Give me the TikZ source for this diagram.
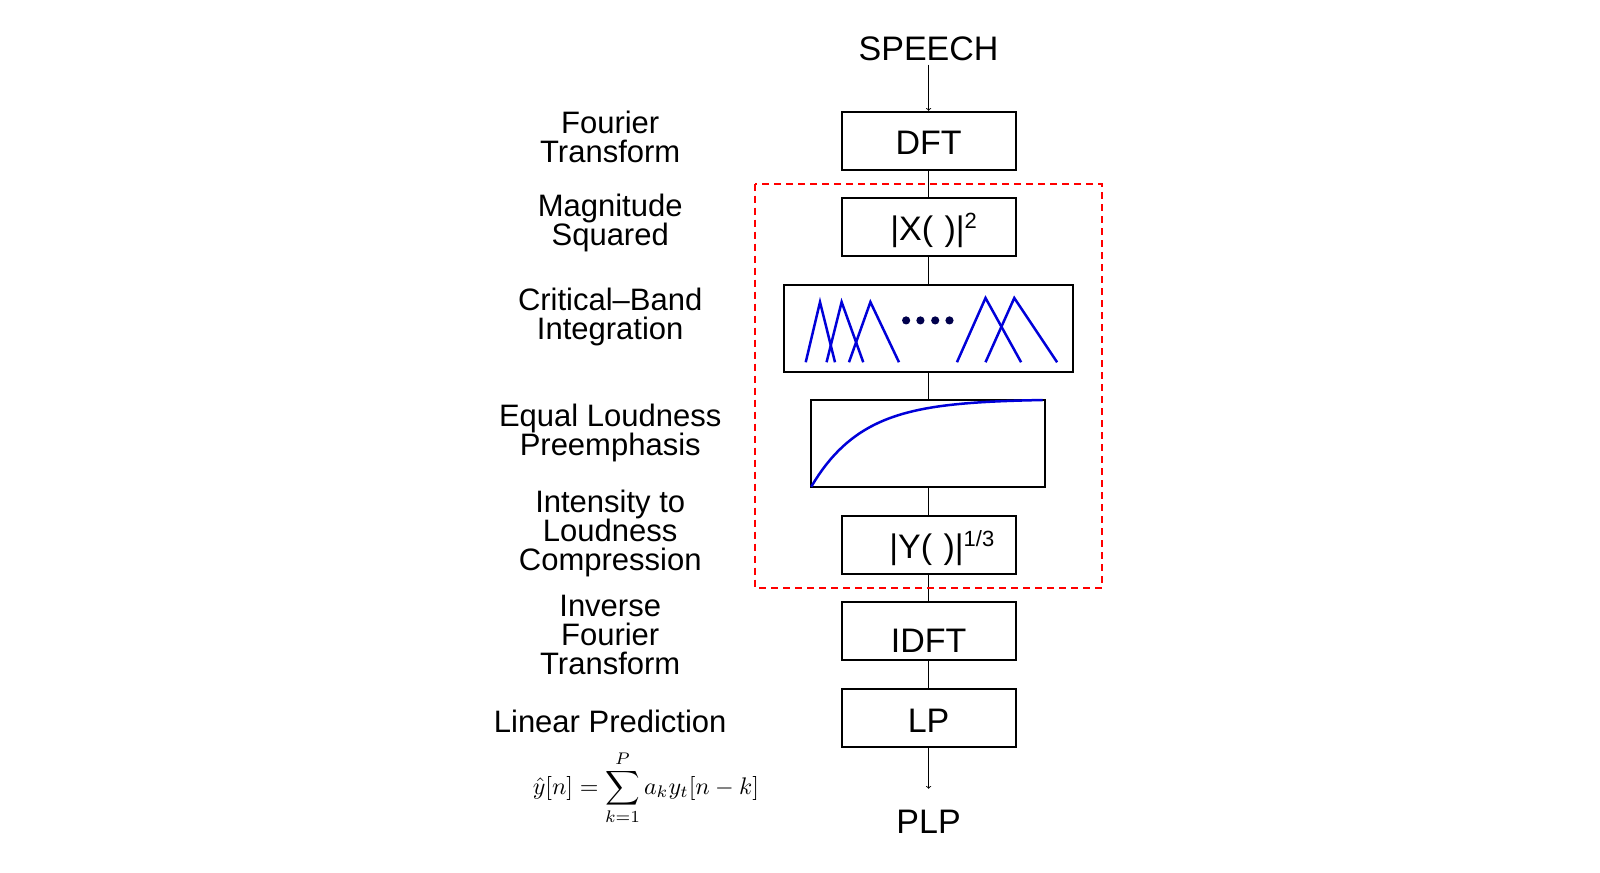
\documentclass[tikz,border=0pt]{standalone}
\usepackage{fontspec}
\usepackage{graphicx}
\setmainfont{Liberation Sans}
\begin{document}
\begin{tikzpicture}[x=1.0204pt,y=-1.0204pt,
  blk/.style={draw,line width=2pt,fill=white,inner sep=0pt},
  lbl/.style={align=center,font=\fontsize{31}{29}\selectfont},
  bt/.style={font=\fontsize{34}{35}\selectfont},
  band/.style={blue!85!black,line width=2.5pt}]
\useasboundingbox (0,0) rectangle (1568,854.6);
\node[bt] (speech) at (910,48) {SPEECH};
\node[bt] (plp) at (910,805) {PLP};
\draw[line width=0.9pt] (910,166) -- (910,675);
\node[blk,minimum width=174,minimum height=58] (dft) at (910,138) {};
\node[bt] at (910,140) {DFT};
\node[blk,minimum width=174,minimum height=58] (mag) at (910,222) {};
\node[bt] at (915,226) {|X(\,\,)|\raisebox{12pt}{\fontsize{22}{22}\selectfont 2}};
\node[blk,minimum width=289,minimum height=87] (cb) at (909.5,321.5) {};
\node[blk,minimum width=234,minimum height=87] (el) at (909.5,434.5) {};
\node[blk,minimum width=174,minimum height=58] (ycomp) at (910,534) {};
\node[bt] at (923,537) {|Y(\,\,)|\raisebox{12pt}{\fontsize{22}{22}\selectfont 1/3}};
\node[blk,minimum width=174,minimum height=58] (idft) at (910,618.5) {};
\node[bt] at (910,628) {IDFT};
\node[blk,minimum width=174,minimum height=58] (lp) at (910,703.5) {};
\node[bt] at (910,706) {LP};
\draw[->,line width=0.9pt] (speech.south) -- (dft.north);
\draw[->,line width=0.9pt] (lp.south) -- (910,773);
\draw[red,line width=2pt,dash pattern=on 7pt off 5pt] (740,180) rectangle (1080,576);
% bands
\draw[band] (789.6,355) -- (803.6,296) -- (818.3,355);
\draw[band] (810,355) -- (824.8,296) -- (846,355);
\draw[band] (832,355) -- (853,296) -- (881,355);
\draw[band] (937.8,355) -- (965.8,292) -- (1000.7,355);
\draw[band] (965.8,355) -- (994,292) -- (1036,355);
\foreach \x in {888,902,916.5,930.5} \fill[blue!30!black] (\x,314) circle (4);
\draw[band,domain=0:1,samples=60] plot ({795+227*\x},{477-85*(1-exp(-4.5*\x))/(1-exp(-4.5))});
% labels
\node[lbl] (l1) at (598,134) {Fourier\\Transform};
\node[lbl] (l2) at (598,219) {Magnitude\\Squared};
\node[lbl] (l3) at (598,311) {Critical--Band\\Integration};
\node[lbl] (l4) at (598,424) {Equal Loudness\\Preemphasis};
\node[lbl] (l5) at (598,523) {Intensity to\\Loudness\\Compression};
\node[lbl] (l6) at (598,622) {Inverse\\Fourier\\Transform};
\node[lbl] (l7) at (598,707) {Linear Prediction};
\node[scale=2.4,inner sep=0pt] (f) at (633,772) {$\displaystyle\hat{y}[n]=\sum_{k=1}^{P}a_k y_t[n-k]$};
\end{tikzpicture}
\end{document}
